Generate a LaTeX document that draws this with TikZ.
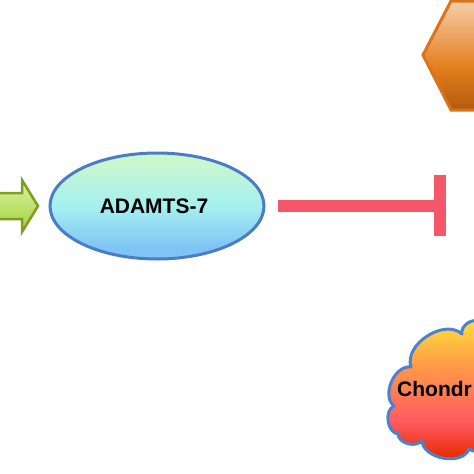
\documentclass[tikz,border=0pt]{standalone}
\usepackage{fontspec}
\setmainfont{Liberation Sans}
\usetikzlibrary{shapes.geometric}
\definecolor{ellborder}{HTML}{4A7CC8}
\definecolor{ellA}{HTML}{CCF7CC}
\definecolor{ellB}{HTML}{A6F0F0}
\definecolor{ellC}{HTML}{7EC4F4}
\definecolor{hexborder}{HTML}{D9741C}
\definecolor{hexA}{HTML}{F6CDAA}
\definecolor{hexB}{HTML}{E3801E}
\definecolor{hexC}{HTML}{B45A0E}
\definecolor{cloudborder}{HTML}{4A82D0}
\definecolor{cloudA}{HTML}{FFD53C}
\definecolor{cloudB}{HTML}{FF9848}
\definecolor{cloudC}{HTML}{FF5A60}
\definecolor{cloudD}{HTML}{E82A00}
\definecolor{inhib}{HTML}{F4566A}
\definecolor{arrborder}{HTML}{7D9E1E}
\definecolor{arrA}{HTML}{D4EE9C}
\definecolor{arrB}{HTML}{A8D444}
\pgfdeclareverticalshading{ellshade}{100bp}{color(0bp)=(ellC); color(30bp)=(ellC); color(50bp)=(ellB); color(72bp)=(ellA); color(100bp)=(ellA)}
\pgfdeclareverticalshading{hexshade}{100bp}{color(0bp)=(hexC); color(25bp)=(hexC); color(45bp)=(hexB); color(75bp)=(hexA); color(100bp)=(hexA)}
\pgfdeclareverticalshading{cloudshade}{100bp}{color(0bp)=(cloudD); color(28bp)=(cloudD); color(40bp)=(cloudC); color(58bp)=(cloudB); color(72bp)=(cloudA); color(100bp)=(cloudA)}
\pgfdeclareverticalshading{arrshade}{100bp}{color(0bp)=(arrB); color(30bp)=(arrB); color(70bp)=(arrA); color(100bp)=(arrA)}
\tikzset{
  lbl/.style={font=\bfseries\fontsize{21}{25}\selectfont, text=black},
  inhibline/.style={draw=inhib, line width=12pt},
}
\begin{document}
\begin{tikzpicture}[x=1pt,y=-1pt]
\useasboundingbox (0,0) rectangle (474,474);
\clip (0,0) rectangle (474,474);
% green block arrow
\draw[draw=arrborder, line width=2.5pt, shading=arrshade, line join=miter]
  (-10,193) -- (22,193) -- (22,180) -- (38,206) -- (22,232) -- (22,219) -- (-10,219) -- cycle;
% ellipse
\node[ellipse, draw=ellborder, line width=3pt, shading=ellshade,
      minimum width=214pt, minimum height=106pt, inner sep=0pt] (adam) at (157,206) {};
\node[lbl] (adamtxt) at (154,206) {ADAMTS-7};
% inhibition
\coordinate (inhEnd) at (440,206);
\coordinate (barTop) at (440,175);
\coordinate (barBot) at (440,236);
\draw[inhibline] ([xshift=12pt]adam.east) -- (inhEnd);
\draw[inhibline] (barTop) -- (barBot);
% hexagon
\draw[draw=hexborder, line width=3pt, shading=hexshade, line join=miter]
  (423,55) -- (451,1) -- (521,1) -- (549,55) -- (521,110) -- (451,110) -- cycle;
% cloud
\draw[draw=cloudborder, line width=3pt, shading=cloudshade, line join=round]
  (480,322) to[bend right=70] (462,334) to[bend right=75] (411,367)
  to[bend right=75] (394,406) to[bend right=75] (398,434)
  to[bend right=75] (422,440) to[bend right=80] (469,449)
  to[bend right=60] (482,446) -- (540,446) -- (540,322) -- cycle;
\node[lbl, anchor=base west, inner sep=0pt] (chon) at (397,396) {Chondr};
\end{tikzpicture}
\end{document}
